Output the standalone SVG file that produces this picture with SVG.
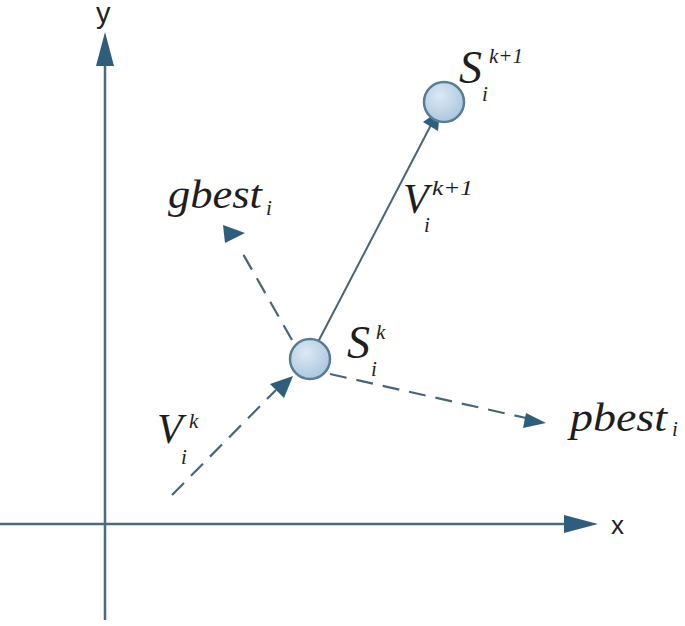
<svg xmlns="http://www.w3.org/2000/svg" width="685" height="626" viewBox="0 0 685 626">
<defs>
<radialGradient id="bg" cx="0.4" cy="0.35" r="0.7">
<stop offset="0" stop-color="#dce9f4"/>
<stop offset="1" stop-color="#a9c5de"/>
</radialGradient>
<style>
.ax{stroke:#4a6a80;stroke-width:2.5;fill:none}
.ln{stroke:#4a6478;stroke-width:2;fill:none}
.ds{stroke:#4a6478;stroke-width:2.2;fill:none;stroke-dasharray:17,10}
.ah{fill:#2f5e7c}
.nd{fill:url(#bg);stroke:#5b7b92;stroke-width:2.5}
.t{font-family:"Liberation Serif",serif;font-style:italic;fill:#1e1e1e}
.s{font-family:"Liberation Sans",sans-serif;fill:#222}
</style>
</defs>
<g id="axes">
<line class="ax" x1="105" y1="620" x2="105" y2="64"/>
<path class="ah" d="M105,32 L114,66 L96,66 z"/>
<line class="ax" x1="0" y1="524" x2="566" y2="524"/>
<path class="ah" d="M598,524 L564,533 L564,515 z"/>
<text class="s" x="96" y="23" font-size="29">y</text>
<text class="s" x="611" y="534" font-size="26">x</text>
</g>
<g id="connectors">
<line class="ln" x1="318" y1="342" x2="432" y2="123"/>
<path class="ah" d="M440,110 L438,131 L423,122 z"/>
<line class="ds" x1="292" y1="340" x2="243" y2="254"/>
<path class="ah" d="M223,225 L245,233 L225,243 z"/>
<line class="ds" x1="330" y1="374" x2="526" y2="418"/>
<path class="ah" d="M546,423 L523,428 L526,413 z"/>
<line class="ds" x1="172" y1="495" x2="276" y2="390"/>
<path class="ah" d="M293,376 L284,398 L270,384 z"/>
</g>
<g id="node-sk">
<circle class="nd" cx="310" cy="359" r="20"/>
<text class="t" x="347" y="358" font-size="46">S</text>
<text class="t" x="376" y="339" font-size="21">k</text>
<text class="t" x="371" y="376" font-size="21">i</text>
</g>
<g id="node-sk1">
<circle class="nd" cx="444" cy="102" r="20"/>
<text class="t" x="459" y="83" font-size="46">S</text>
<text class="t" x="489" y="63" font-size="21" textLength="34" lengthAdjust="spacingAndGlyphs">k+1</text>
<text class="t" x="482" y="101" font-size="21">i</text>
</g>
<g id="label-gbest">
<text class="t" x="168" y="208" font-size="40" textLength="94" lengthAdjust="spacingAndGlyphs">gbest</text>
<text class="t" x="266" y="215" font-size="21">i</text>
</g>
<g id="label-pbest">
<text class="t" x="570" y="431" font-size="40" textLength="97" lengthAdjust="spacingAndGlyphs">pbest</text>
<text class="t" x="672" y="436" font-size="21">i</text>
</g>
<g id="label-vk1">
<text class="t" x="403" y="213" font-size="42">V</text>
<text class="t" x="432" y="195" font-size="21" textLength="41" lengthAdjust="spacingAndGlyphs">k+1</text>
<text class="t" x="424" y="232" font-size="21">i</text>
</g>
<g id="label-vk">
<text class="t" x="157" y="443" font-size="42">V</text>
<text class="t" x="189" y="428" font-size="21">k</text>
<text class="t" x="181" y="464" font-size="21">i</text>
</g>
</svg>
